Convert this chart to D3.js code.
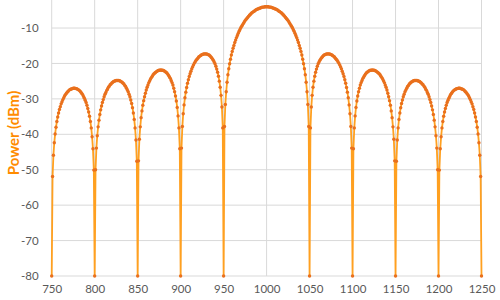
<!DOCTYPE html>
<html>
<head>
<meta charset="utf-8">
<script src="https://cdn.jsdelivr.net/npm/d3@7"></script>
<style>
  body { margin: 0; background: #fff; }
  svg { display: block; font-family: Lato, "Open Sans", sans-serif; }
</style>
</head>
<body>
<div id="wrapper"></div>
<script>
// wavelength axis, one sample per unit from 750 to 1250
const xStart = 750;
const xEnd = 1250;
const xTicks = [750, 800, 850, 900, 950, 1000, 1050, 1100, 1150, 1200, 1250];
const yTicks = [-80, -70, -60, -50, -40, -30, -20, -10];

// power (dBm), read lobe by lobe
const lobe750 = [-80, -51.9, -45.9, -42.4, -39.9, -38.0, -36.4, -35.1, -34.0, -33.0, -32.2, -31.4, -30.8, -30.2, -29.7, -29.2, -28.8, -28.5, -28.1, -27.9, -27.6, -27.4, -27.3, -27.2, -27.1, -27.0, -27.0, -27.0, -27.1, -27.1, -27.3, -27.4, -27.6, -27.8, -28.1, -28.5, -28.8, -29.3, -29.8, -30.4, -31.0, -31.8, -32.7, -33.7, -34.9, -36.4, -38.2, -40.7, -44.1, -50.1];
const lobe800 = [-80, -50.0, -43.9, -40.4, -37.9, -36.0, -34.4, -33.1, -32.0, -31.0, -30.2, -29.4, -28.7, -28.2, -27.6, -27.2, -26.7, -26.4, -26.0, -25.8, -25.5, -25.3, -25.1, -25.0, -24.9, -24.8, -24.8, -24.8, -24.8, -24.9, -25.0, -25.2, -25.3, -25.6, -25.8, -26.2, -26.5, -27.0, -27.5, -28.0, -28.7, -29.4, -30.3, -31.3, -32.5, -34.0, -35.8, -38.2, -41.6, -47.6];
const lobe850 = [-80, -47.5, -41.4, -37.9, -35.3, -33.4, -31.8, -30.5, -29.4, -28.4, -27.5, -26.7, -26.1, -25.4, -24.9, -24.4, -24.0, -23.6, -23.2, -22.9, -22.7, -22.5, -22.3, -22.1, -22.0, -21.9, -21.9, -21.8, -21.9, -21.9, -22.0, -22.1, -22.3, -22.5, -22.7, -23.0, -23.4, -23.8, -24.2, -24.8, -25.4, -26.1, -27.0, -28.0, -29.2, -30.6, -32.4, -34.8, -38.2, -44.1];
const lobe900 = [-80, -43.9, -37.8, -34.2, -31.7, -29.7, -28.1, -26.8, -25.6, -24.6, -23.7, -22.9, -22.2, -21.5, -20.9, -20.4, -19.9, -19.5, -19.1, -18.8, -18.5, -18.2, -18.0, -17.8, -17.6, -17.5, -17.4, -17.3, -17.3, -17.3, -17.3, -17.4, -17.5, -17.6, -17.8, -18.1, -18.4, -18.7, -19.1, -19.6, -20.1, -20.8, -21.6, -22.5, -23.6, -25.0, -26.7, -29.0, -32.3, -38.2];
const lobe950 = [-80, -37.8, -31.6, -28.0, -25.3, -23.2, -21.5, -20.1, -18.8, -17.6, -16.6, -15.7, -14.9, -14.1, -13.4, -12.7, -12.1, -11.5, -10.9, -10.4, -9.9, -9.5, -9.1, -8.7, -8.3, -7.9, -7.6, -7.3, -7.0, -6.7, -6.4, -6.2, -5.9, -5.7, -5.5, -5.3, -5.2, -5.0, -4.8, -4.7, -4.6, -4.5, -4.4, -4.3, -4.2, -4.1, -4.1, -4.1, -4.0, -4.0];
const lobe1000 = [-4.0, -4.0, -4.0, -4.1, -4.1, -4.1, -4.2, -4.3, -4.4, -4.5, -4.6, -4.7, -4.8, -5.0, -5.2, -5.3, -5.5, -5.7, -5.9, -6.2, -6.4, -6.7, -7.0, -7.3, -7.6, -7.9, -8.3, -8.7, -9.1, -9.5, -9.9, -10.4, -10.9, -11.5, -12.1, -12.7, -13.4, -14.1, -14.9, -15.7, -16.6, -17.6, -18.8, -20.1, -21.5, -23.2, -25.3, -28.0, -31.6, -37.8, -80];
const lobe1050 = [-38.2, -32.3, -29.0, -26.7, -25.0, -23.6, -22.5, -21.6, -20.8, -20.1, -19.6, -19.1, -18.7, -18.4, -18.1, -17.8, -17.6, -17.5, -17.4, -17.3, -17.3, -17.3, -17.3, -17.4, -17.5, -17.6, -17.8, -18.0, -18.2, -18.5, -18.8, -19.1, -19.5, -19.9, -20.4, -20.9, -21.5, -22.2, -22.9, -23.7, -24.6, -25.6, -26.8, -28.1, -29.7, -31.7, -34.2, -37.8, -43.9, -80];
const lobe1100 = [-44.1, -38.2, -34.8, -32.4, -30.6, -29.2, -28.0, -27.0, -26.1, -25.4, -24.8, -24.2, -23.8, -23.4, -23.0, -22.7, -22.5, -22.3, -22.1, -22.0, -21.9, -21.9, -21.8, -21.9, -21.9, -22.0, -22.1, -22.3, -22.5, -22.7, -22.9, -23.2, -23.6, -24.0, -24.4, -24.9, -25.4, -26.1, -26.7, -27.5, -28.4, -29.4, -30.5, -31.8, -33.4, -35.3, -37.9, -41.4, -47.5, -80];
const lobe1150 = [-47.6, -41.6, -38.2, -35.8, -34.0, -32.5, -31.3, -30.3, -29.4, -28.7, -28.0, -27.5, -27.0, -26.5, -26.2, -25.8, -25.6, -25.3, -25.2, -25.0, -24.9, -24.8, -24.8, -24.8, -24.8, -24.9, -25.0, -25.1, -25.3, -25.5, -25.8, -26.0, -26.4, -26.7, -27.2, -27.6, -28.2, -28.7, -29.4, -30.2, -31.0, -32.0, -33.1, -34.4, -36.0, -37.9, -40.4, -43.9, -50.0, -80];
const lobe1200 = [-50.1, -44.1, -40.7, -38.2, -36.4, -34.9, -33.7, -32.7, -31.8, -31.0, -30.4, -29.8, -29.3, -28.8, -28.5, -28.1, -27.8, -27.6, -27.4, -27.3, -27.1, -27.1, -27.0, -27.0, -27.0, -27.1, -27.2, -27.3, -27.4, -27.6, -27.9, -28.1, -28.5, -28.8, -29.2, -29.7, -30.2, -30.8, -31.4, -32.2, -33.0, -34.0, -35.1, -36.4, -38.0, -39.9, -42.4, -45.9, -51.9, -80];

const power = [].concat(lobe750, lobe800, lobe850, lobe900, lobe950, lobe1000, lobe1050, lobe1100, lobe1150, lobe1200);
const wavelength = d3.range(xStart, xEnd + 1);
const data = wavelength.map((w, i) => ({ x: w, y: power[i] }));

const width = 500, height = 300;
const margin = { left: 51.7, right: 18.5, bottom: 24, top: -7.4 };

const svg = d3.select("#wrapper").append("svg")
    .attr("width", width)
    .attr("height", height);

const xScale = d3.scaleLinear()
    .domain([xStart, xEnd])
    .range([margin.left, width - margin.right]);

const yScale = d3.scaleLinear()
    .domain([-80, 0])
    .range([height - margin.bottom, margin.top]);

// gridlines
svg.append("g")
    .selectAll("line.h")
    .data(yTicks)
    .join("line")
    .attr("x1", xScale(xStart)).attr("x2", xScale(xEnd))
    .attr("y1", d => yScale(d)).attr("y2", d => yScale(d))
    .attr("stroke", "#d9d9d9").attr("stroke-width", 1);

svg.append("g")
    .selectAll("line.v")
    .data(xTicks)
    .join("line")
    .attr("x1", d => xScale(d)).attr("x2", d => xScale(d))
    .attr("y1", yScale(-80)).attr("y2", yScale(0))
    .attr("stroke", "#d9d9d9").attr("stroke-width", 1);

// axes (labels only), plain hyphen for the minus like Excel
const xAxis = d3.axisBottom(xScale).tickValues(xTicks).tickSize(0).tickPadding(9).tickFormat(d => String(d));
const yAxis = d3.axisLeft(yScale).tickValues(yTicks).tickSize(0).tickPadding(13).tickFormat(d => String(d));

const gx = svg.append("g")
    .attr("transform", `translate(0, ${yScale(-80)})`)
    .call(xAxis);
const gy = svg.append("g")
    .attr("transform", `translate(${xScale(xStart)}, 0)`)
    .call(yAxis);

[gx, gy].forEach(g => {
    g.select(".domain").remove();
    g.selectAll("text")
        .attr("fill", "#595959")
        .style("font-size", "11.5px")
        .style("font-family", "Lato, 'Open Sans', sans-serif");
});

// y axis title
svg.append("text")
    .attr("transform", `translate(19, 133) rotate(-90)`)
    .attr("text-anchor", "middle")
    .attr("fill", "#FF8C00")
    .style("font-size", "15px")
    .style("font-weight", "bold")
    .text("Power (dBm)");

// series line
const line = d3.line()
    .x(d => xScale(d.x))
    .y(d => yScale(d.y));

svg.append("path")
    .datum(data)
    .attr("d", line)
    .attr("fill", "none")
    .attr("stroke", "#FFA020")
    .attr("stroke-width", 1.8)
    .attr("stroke-linejoin", "round");

// markers
svg.append("g")
    .selectAll("circle")
    .data(data)
    .join("circle")
    .attr("cx", d => xScale(d.x))
    .attr("cy", d => yScale(d.y))
    .attr("r", 1.7)
    .attr("fill", "#E9701D");
</script>
</body>
</html>
